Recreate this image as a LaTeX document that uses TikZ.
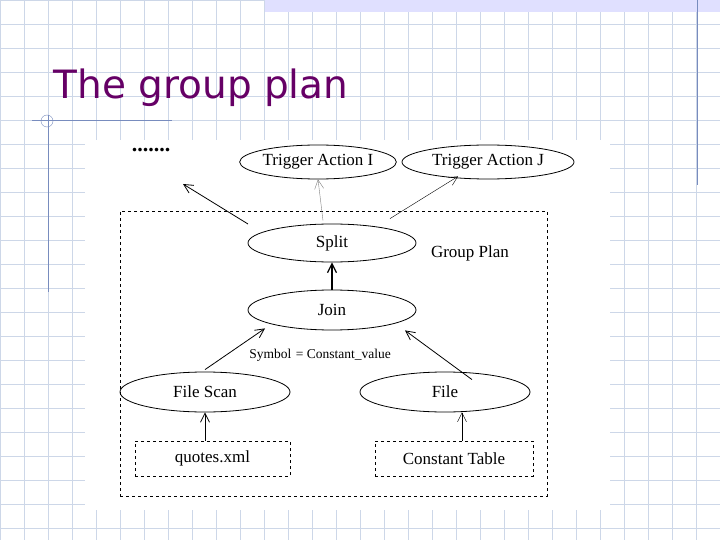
\documentclass[tikz,border=0pt]{standalone}
\usepackage{fontspec}
\setmainfont{Liberation Serif}
\newfontfamily\titlefont{DejaVu Sans}
\usetikzlibrary{arrows.meta,shapes.geometric}
\definecolor{gridc}{RGB}{205,215,232}
\definecolor{deco}{RGB}{120,140,190}
\definecolor{titlec}{RGB}{102,0,102}
\begin{document}
\begin{tikzpicture}[x=1pt,y=-1pt,
  ell/.style={draw,ellipse,thick,inner sep=0pt,font=\fontsize{17}{19}\selectfont},
  fbox/.style={draw,dashed,thick,font=\fontsize{17}{19}\selectfont},
  arr/.style={thick,-{Straight Barb[length=9pt,width=9pt]}},
  lbl/.style={font=\fontsize{17}{19}\selectfont}]
\useasboundingbox (0,0) rectangle (720,540);
\fill[white] (0,0) rectangle (720,540);
\draw[gridc,line width=0.8pt,step=24pt] (0,0) grid (720,540);
\fill[blue!12] (265,0) rectangle (720,12);
\draw[deco,thick] (697,0) -- (697,185);
\draw[deco,thick] (32,120) -- (172,120);
\draw[deco,thick] (48,115) -- (48,292);
\draw[deco] (47,121) circle (6);
\node[anchor=west,text=titlec,font=\titlefont\fontsize{39}{43}\selectfont] (title) at (50,88) {The group plan};
\fill[white] (85,140) rectangle (610,510);
\node[fbox,minimum width=427pt,minimum height=285pt] (gp) at (333.5,353.5) {};
\node[font=\fontsize{22}{24}\selectfont] (dots) at (151,150) {\textbf{.......}};
\node[ell,minimum width=146pt,minimum height=34pt] (tai) at (318,162) {Trigger Action I};
\node[ell,minimum width=172pt,minimum height=34pt] (taj) at (488,162) {Trigger Action J};
\node[ell,minimum width=168pt,minimum height=38pt] (split) at (332,243) {Split};
\node[ell,minimum width=168pt,minimum height=40pt] (join) at (332,310) {Join};
\node[ell,minimum width=170pt,minimum height=40pt] (fscan) at (205,392) {File Scan};
\node[ell,minimum width=170pt,minimum height=40pt] (file) at (445,392) {File};
\node[fbox,minimum width=155pt,minimum height=35pt] (qx) at (212.5,458.5) {quotes.xml};
\node[fbox,minimum width=158pt,minimum height=35pt] (ct) at (454,458.5) {Constant Table};
\node[lbl] (gpl) at (470,253) {Group Plan};
\node[font=\fontsize{13.5}{15}\selectfont] (sym) at (320,355) {Symbol\,\,= Constant\_value};
\coordinate (free) at (183,184);
\coordinate (s1) at (248,224);
\draw[arr] (s1) -- (free);
\draw[arr,thin,gray] ([xshift=-9pt,yshift=3pt]split.north) -- (tai.south);
\draw[arr,thin] ([xshift=58pt,yshift=5pt]split.north) -- ([xshift=-30pt,yshift=3pt]taj.south);
\draw[arr,line width=1.2pt] (join.north) -- (split.south);
\draw[arr] ([yshift=2pt]fscan.north) -- ([xshift=-67pt,yshift=2pt]join.south);
\draw[arr] ([xshift=27pt,yshift=-8pt]file.north) -- ([xshift=73pt]join.south);
\draw[arr] (qx.north -| fscan.south) -- (fscan.south);
\draw[arr,thin] ([xshift=8pt]ct.north) -- ([xshift=17pt]file.south);
\end{tikzpicture}
\end{document}
